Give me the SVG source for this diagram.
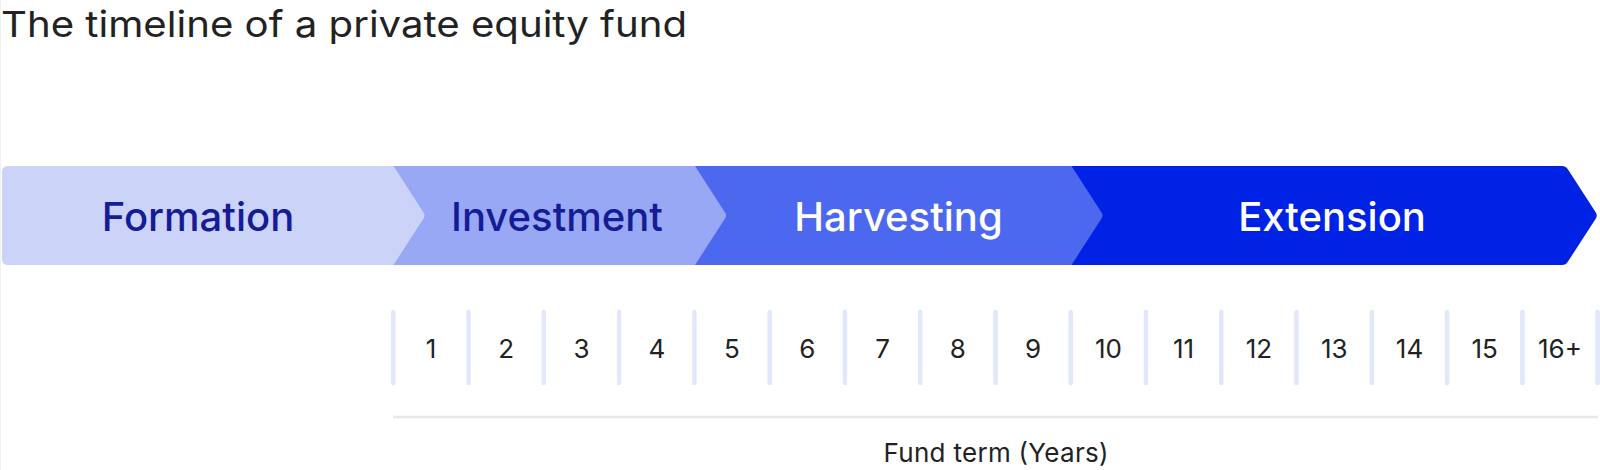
<svg xmlns="http://www.w3.org/2000/svg" width="1600" height="470" viewBox="0 0 1600 470">
<style>
.title{font-family:Inter,"Liberation Sans",sans-serif;font-size:36px;fill:#222222}
.phase{font-family:Inter,"Liberation Sans",sans-serif;font-size:40px;font-weight:500;text-anchor:middle}
.dark{fill:#161B96}
.light{fill:#FFFFFF}
.tick{stroke:#E2E7FB;stroke-width:4.5;stroke-linecap:round}
.num{font-family:Inter,"Liberation Sans",sans-serif;font-size:26px;fill:#222222;text-anchor:middle}
.axis{stroke:#E8E8E8;stroke-width:2.5}
.axislabel{font-family:Inter,"Liberation Sans",sans-serif;font-size:26px;fill:#222222;text-anchor:middle}
</style>
<rect width="1600" height="470" fill="#FFFFFF"/>
<line x1="0.5" y1="0" x2="0.5" y2="470" stroke="#F1F1F1" stroke-width="1"/>
<text class="title" x="1" y="37" textLength="686" lengthAdjust="spacingAndGlyphs">The timeline of a private equity fund</text>

<g id="extension">
<path d="M1060,166 H1562 Q1566,166 1568,169.5 L1595.5,212 Q1598,215.5 1595.5,219 L1568,261.5 Q1566,265 1562,265 H1060 Z" fill="#0022E4"/>
<text class="phase light" x="1332" y="231">Extension</text>
</g>
<g id="harvesting">
<path d="M680,166 H1071.5 L1101.5,212.5 Q1103.5,215.5 1101.5,218.5 L1071.5,265 H680 Z" fill="#4B68EE"/>
<text class="phase light" x="898.5" y="231">Harvesting</text>
</g>
<g id="investment">
<path d="M380,166 H695 L725,212.5 Q727,215.5 725,218.5 L695,265 H380 Z" fill="#99A8F4"/>
<text class="phase dark" x="557" y="231">Investment</text>
</g>
<g id="formation">
<path d="M8,166 H393.5 L423.5,212.5 Q425.5,215.5 423.5,218.5 L393.5,265 H8 Q2,265 2,259 V172 Q2,166 8,166 Z" fill="#CBD3F8"/>
<text class="phase dark" x="198" y="231">Formation</text>
</g>

<g id="ticks">
<line class="tick" x1="393.3" y1="312" x2="393.3" y2="383"/>
<line class="tick" x1="468.6" y1="312" x2="468.6" y2="383"/>
<line class="tick" x1="543.8" y1="312" x2="543.8" y2="383"/>
<line class="tick" x1="619.1" y1="312" x2="619.1" y2="383"/>
<line class="tick" x1="694.4" y1="312" x2="694.4" y2="383"/>
<line class="tick" x1="769.7" y1="312" x2="769.7" y2="383"/>
<line class="tick" x1="844.9" y1="312" x2="844.9" y2="383"/>
<line class="tick" x1="920.2" y1="312" x2="920.2" y2="383"/>
<line class="tick" x1="995.5" y1="312" x2="995.5" y2="383"/>
<line class="tick" x1="1070.7" y1="312" x2="1070.7" y2="383"/>
<line class="tick" x1="1146" y1="312" x2="1146" y2="383"/>
<line class="tick" x1="1221.3" y1="312" x2="1221.3" y2="383"/>
<line class="tick" x1="1296.5" y1="312" x2="1296.5" y2="383"/>
<line class="tick" x1="1371.8" y1="312" x2="1371.8" y2="383"/>
<line class="tick" x1="1447.1" y1="312" x2="1447.1" y2="383"/>
<line class="tick" x1="1522.4" y1="312" x2="1522.4" y2="383"/>
<line class="tick" x1="1597.6" y1="312" x2="1597.6" y2="383"/>
</g>
<g id="years">
<text class="num" x="431" y="357.5">1</text>
<text class="num" x="506.2" y="357.5">2</text>
<text class="num" x="581.5" y="357.5">3</text>
<text class="num" x="656.8" y="357.5">4</text>
<text class="num" x="732" y="357.5">5</text>
<text class="num" x="807.3" y="357.5">6</text>
<text class="num" x="882.6" y="357.5">7</text>
<text class="num" x="957.8" y="357.5">8</text>
<text class="num" x="1033.1" y="357.5">9</text>
<text class="num" x="1108.4" y="357.5">10</text>
<text class="num" x="1183.6" y="357.5">11</text>
<text class="num" x="1258.9" y="357.5">12</text>
<text class="num" x="1334.2" y="357.5">13</text>
<text class="num" x="1409.5" y="357.5">14</text>
<text class="num" x="1484.7" y="357.5">15</text>
<text class="num" x="1560" y="357.5">16+</text>
</g>
<g id="axis">
<line class="axis" x1="393" y1="417" x2="1598" y2="417"/>
<text class="axislabel" x="996" y="462" textLength="225" lengthAdjust="spacing">Fund term (Years)</text>
</g>
</svg>
